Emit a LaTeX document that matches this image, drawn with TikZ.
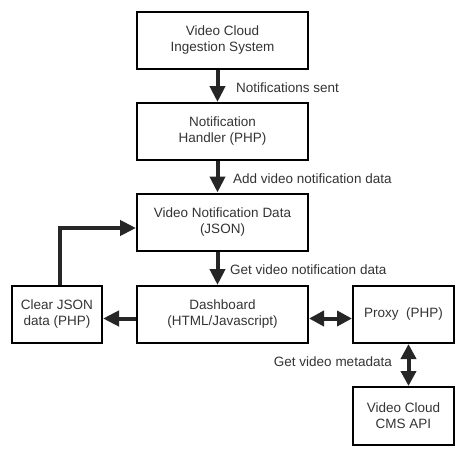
\documentclass[tikz,border=0pt]{standalone}
\usepackage{fontspec}
\setmainfont{Liberation Sans}
\usetikzlibrary{arrows.meta}
\tikzset{
  box/.style={draw, line width=2pt, minimum width=171pt, minimum height=57pt, align=center, font=\fontsize{13.5}{16}\selectfont, text=black!80},
  flow/.style={line width=4pt, -{Triangle[length=16pt,width=15pt]}, black!85},
  twoway/.style={line width=4pt, {Triangle[length=15pt,width=15pt]}-{Triangle[length=15pt,width=15pt]}, black!85},
  lbl/.style={anchor=west, inner sep=0pt, font=\fontsize{13.5}{16}\selectfont, text=black!80}
}
\begin{document}
\begin{tikzpicture}[x=1pt,y=-1pt]
        \useasboundingbox (0,0) rectangle (474,455);
        % main column
        \node[box] (ingest) at (222.5,40.5) {Video Cloud\\Ingestion System};
        \node[box] (handler) at (222.5,131.5) {Notification\\Handler (PHP)};
        \node[box] (data) at (222.5,222) {Video Notification Data\\(JSON)};
        \node[box] (dash) at (222.5,314.5) {Dashboard\\(HTML/Javascript)};
        % side boxes
        \node[box, minimum width=90pt] (clear) at (57,314.5) {Clear JSON\\data (PHP)};
        \node[box, minimum width=101pt] (proxy) at (403.5,314.5) {Proxy\ \ (PHP)};
        \node[box, minimum width=101pt, minimum height=58pt] (cms) at (403.5,416) {Video Cloud\\CMS API};
        % connectors
        \draw[flow] ([xshift=-5pt]ingest.south) -- ([xshift=-5pt]handler.north);
        \draw[flow] ([xshift=-5pt]handler.south) -- ([xshift=-5pt]data.north);
        \draw[flow] ([xshift=-5pt]data.south) -- ([xshift=-5pt]dash.north);
        \draw[flow] ([yshift=-4pt]dash.west) -- ([yshift=-4pt]clear.east);
        \draw[flow] ([xshift=3pt]clear.north) |- ([yshift=-6pt]data.west);
        \draw[twoway] ([yshift=-4pt]dash.east) -- ([yshift=-4pt]proxy.west);
        \draw[twoway] ([xshift=5pt]proxy.south) -- ([xshift=5pt]cms.north);
        % labels
        \node[lbl] (sent) at (236,88) {Notifications sent};
        \node[lbl] (add) at (233,179) {Add video notification data};
        \node[lbl] (get) at (230,270) {Get video notification data};
        \node[lbl, anchor=east] (meta) at (392,362) {Get video metadata};
\end{tikzpicture}
\end{document}
